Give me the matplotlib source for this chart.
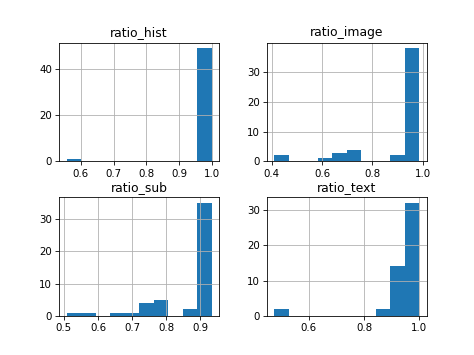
import numpy as np
import matplotlib
matplotlib.use("Agg")
import matplotlib.pyplot as plt

columns = ["ratio_hist", "ratio_image", "ratio_sub", "ratio_text"]

# value range (min, max) of each column, and the counts of its 10 bins
range_hist = (0.556, 0.999)
counts_hist = [1, 0, 0, 0, 0, 0, 0, 0, 0, 49]

range_image = (0.409, 0.987)
counts_image = [2, 0, 0, 1, 3, 4, 0, 0, 2, 38]

range_sub = (0.508, 0.933)
counts_sub = [1, 1, 0, 1, 1, 4, 5, 0, 2, 35]

range_text = (0.475, 1.0)
counts_text = [2, 0, 0, 0, 0, 0, 0, 2, 14, 32]

ranges = [range_hist, range_image, range_sub, range_text]
counts = [counts_hist, counts_image, counts_sub, counts_text]

dpi = 74.0625
fig, axes = plt.subplots(2, 2, figsize=(474 / dpi, 355 / dpi), dpi=dpi)
fig.subplots_adjust(wspace=0.3, hspace=0.3)

for ax, name, (lo, hi), cnt in zip(axes.ravel(), columns, ranges, counts):
    edges = np.linspace(lo, hi, len(cnt) + 1)
    ax.hist(edges[:-1], bins=edges, weights=cnt, color="#1f77b4")
    ax.set_title(name)
    ax.grid(True)

fig.savefig("out.png", dpi=dpi)
